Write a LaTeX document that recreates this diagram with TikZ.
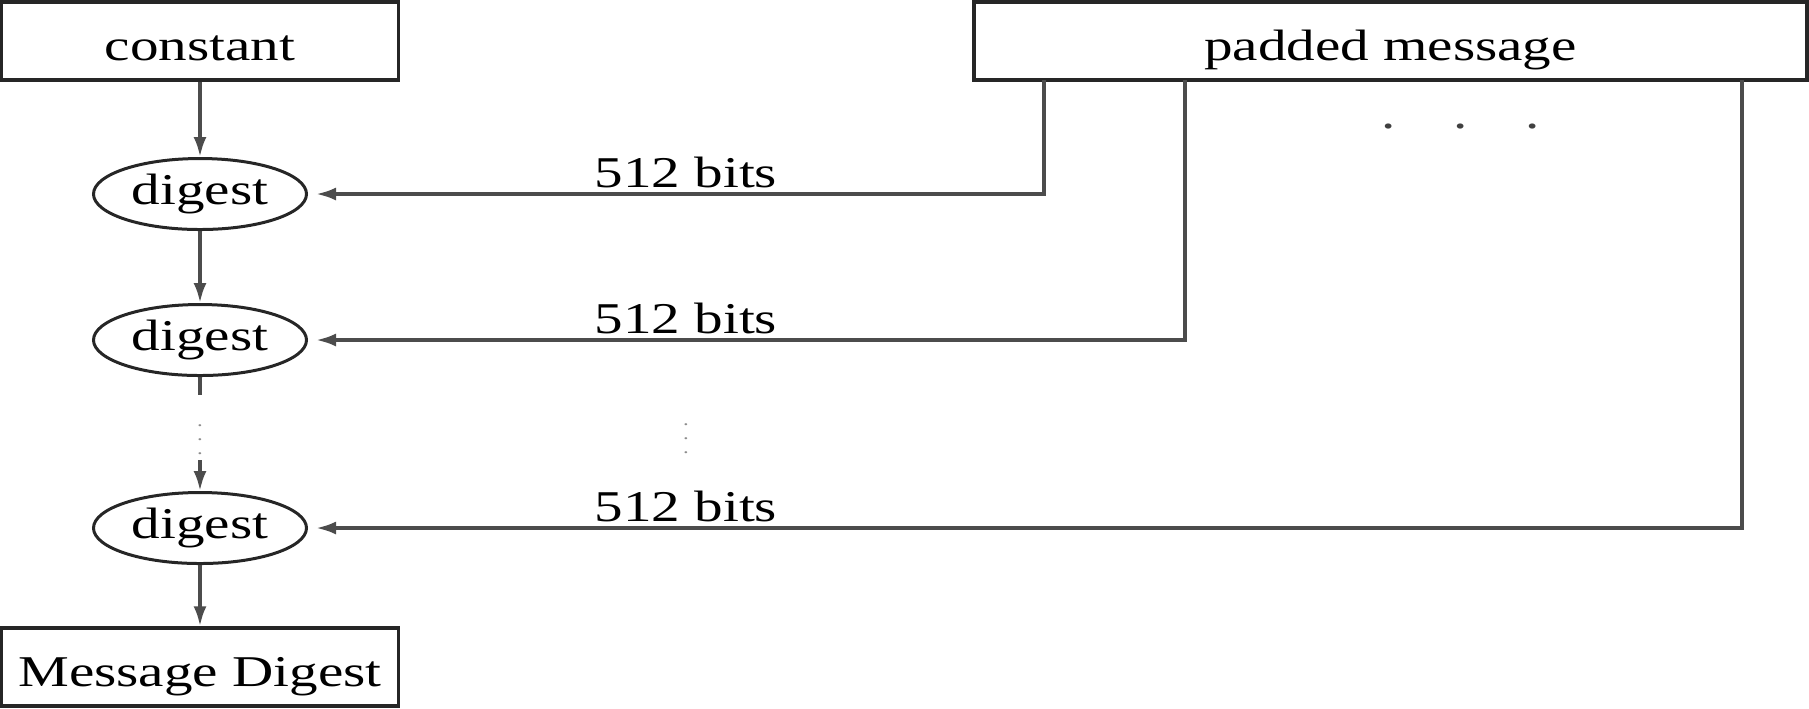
\documentclass[tikz,border=0pt]{standalone}
\usepackage{fontspec}
\setmainfont{Liberation Serif}[FakeStretch=1.3]
\usetikzlibrary{shapes.geometric,arrows.meta}
\begin{document}
\begin{tikzpicture}[x=0.1mm,y=-0.1mm,
		every node/.style={font=\fontsize{12.5}{15}\selectfont},
		box/.style={draw=black!85,line width=0.35mm,minimum height=7.8mm,inner sep=0pt,text height=4.2mm,text depth=0.3mm},
		dig/.style={draw=black!85,line width=0.3mm,ellipse,minimum width=21.3mm,minimum height=7.1mm,inner sep=0pt},
		lbl/.style={anchor=base,inner sep=0pt},
		link/.style={draw=black!70,line width=0.35mm,-{Latex[length=2mm,width=1.3mm]}},
		feed/.style={link,shorten >=0.8mm}]
		\useasboundingbox (0,0) rectangle (1809,708);
		\node[box,minimum width=39.7mm] (const) at (200,41) {constant};
		\node[box,minimum width=83.3mm] (pm) at (1390.5,41) {padded message};
		\node[dig] (d1) at (200,194) {digest};
		\node[dig] (d2) at (200,340) {digest};
		\node[dig] (d3) at (200,528) {digest};
		\node[box,minimum width=39.7mm] (md) at (200,667) {Message Digest};

		\draw[link] (const) -- (d1);
		\draw[link] (d1) -- (d2);
		\coordinate (brk1) at (200,395);
		\coordinate (brk2) at (200,460);
		\draw[link,-] (d2) -- (brk1);
		\node[text=black!45,font=\tiny] (vd1) at (200,429) {$\vdots$};
		\draw[link] (brk2) -- (d3);
		\draw[link] (d3) -- (md);

		\coordinate (t1) at (1044,80);
		\coordinate (t2) at (1185,80);
		\coordinate (t3) at (1742,80);
		\draw[feed] (t1) |- (d1);
		\draw[feed] (t2) |- (d2);
		\draw[feed] (t3) |- (d3);
		\node[lbl] (l1) at (686,187) {512 bits};
		\node[lbl] (l2) at (686,333) {512 bits};
		\node[lbl] (l3) at (686,521) {512 bits};
		\node[text=black!45,font=\tiny] (vd2) at (686,428) {$\vdots$};
		\node[lbl,text=black!75] (dots) at (1461,128) {.\hspace{5.77mm}.\hspace{5.77mm}.};
	\end{tikzpicture}
\end{document}
